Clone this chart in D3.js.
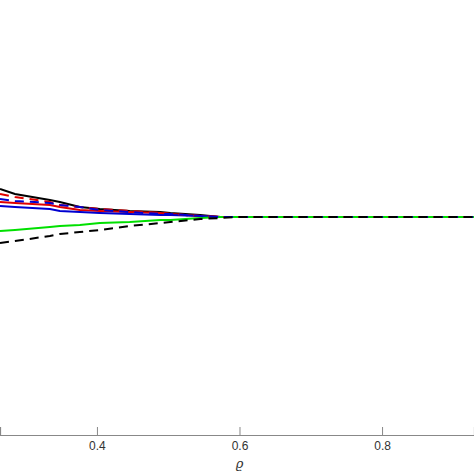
<!DOCTYPE html><html><head><script src="https://cdn.jsdelivr.net/npm/d3@7"></script>
<style>body{margin:0;background:#fff}</style></head><body><svg width="474" height="474"></svg><script>
const rho = [0.264,0.285,0.334,0.348,0.376,0.404,0.446,0.489,0.503,0.545,0.573,0.6,0.7,0.8,0.93];
const blackSolid = [0.28,0.23,0.17,0.15,0.10,0.08,0.06,0.05,0.04,0.02,0.00,0,0,0,0];
const redDashed  = [0.23,0.20,0.15,0.12,0.10,0.08,0.06,0.04,0.03,0.01,0.00,0,0,0,0];
const blueDashed = [0.18,0.16,0.14,0.12,0.10,0.07,0.05,0.03,0.03,0.01,0.00,0,0,0,0];
const redSolid   = [0.15,0.14,0.12,0.10,0.07,0.06,0.05,0.04,0.03,0.01,0.00,0,0,0,0];
const blueSolid  = [0.11,0.10,0.08,0.06,0.05,0.04,0.03,0.02,0.02,0.01,0.00,0,0,0,0];
const green      = [-0.14,-0.13,-0.10,-0.09,-0.08,-0.06,-0.05,-0.03,-0.03,-0.01,0.00,0,0,0,0];
const blackDashed= [-0.26,-0.24,-0.19,-0.17,-0.15,-0.13,-0.09,-0.06,-0.05,-0.02,-0.01,0,0,0,0];
const ticks = [0.4,0.6,0.8];
const svg = d3.select("svg");
const x = d3.scaleLinear().domain([0.264,0.929]).range([0,474]);
const y = d3.scaleLinear().domain([-1,1]).range([317,117]);
const g = svg.append("g").attr("transform","translate(0,435)");
g.call(d3.axisBottom(x).tickValues(ticks).tickSize(-8).tickPadding(22).tickFormat(d3.format(".1f")));
g.select(".domain").attr("stroke","#888").attr("stroke-width",1.2);
g.selectAll(".tick line").attr("stroke","#888");
g.selectAll("text").attr("font-family","Liberation Sans, Arial").attr("font-size",12).attr("fill","#333").attr("dy","-0.6em");
svg.append("text").attr("x",x(0.6)).attr("y",468).attr("text-anchor","middle").attr("font-style","italic").attr("font-family","DejaVu Serif").attr("font-size",13).attr("fill","#333").text("ϱ");
const series = [[blackSolid,"#000",null],[redSolid,"#e00000",null],[blueSolid,"#0000d0",null],[green,"#00e000",null],[redDashed,"#e00000","9,6"],[blueDashed,"#0000d0","9,6"],[blackDashed,"#000","9,6"]];
const line = d3.line().x((d,i)=>x(rho[i])).y(d=>y(d));
series.forEach(([v,c,da])=>{
  svg.append("path").datum(v).attr("d",line).attr("fill","none").attr("stroke",c).attr("stroke-width",2).attr("stroke-dasharray",da);
});
</script></body></html>
